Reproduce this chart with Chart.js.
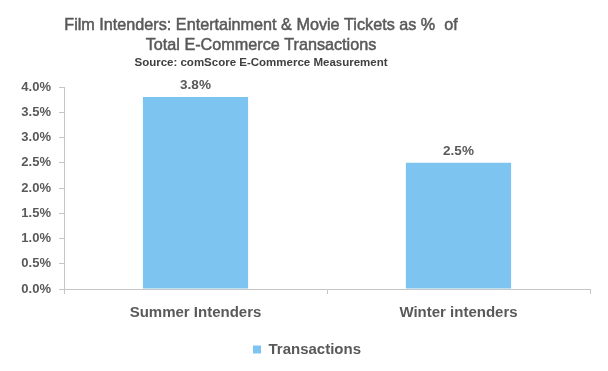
<!DOCTYPE html>
<html>
<head>
<meta charset="utf-8">
<script src="https://cdn.jsdelivr.net/npm/chart.js@4"></script>
<style>
  html, body { margin: 0; padding: 0; background: #ffffff; }
  #wrap { width: 608px; height: 371px; }
</style>
</head>
<body>
<div id="wrap"><canvas id="my-chart" width="608" height="371"></canvas></div>
<script>
const categories = ["Summer Intenders", "Winter intenders"];
const transactions = [3.8, 2.5];
const yTicks = [0, 0.5, 1, 1.5, 2, 2.5, 3, 3.5, 4];
const titleLines = ["Film Intenders: Entertainment & Movie Tickets as %  of", "Total E-Commerce Transactions"];
const subtitleText = "Source: comScore E-Commerce Measurement";

const FONT = "'Liberation Sans', Arial, sans-serif";
const textColor = "#595959";
const axisColor = "#c6c6c6";
const barColor = "#7DC4F0";

// title block is centred a bit left of the canvas middle, like the original
const titleBlock = {
  id: "titleBlock",
  afterDraw(chart) {
    const ctx = chart.ctx;
    ctx.save();
    ctx.textAlign = "center";
    ctx.textBaseline = "alphabetic";
    ctx.fillStyle = textColor;
    ctx.strokeStyle = textColor;
    ctx.lineWidth = 0.5;
    ctx.font = "16.2px " + FONT;
    titleLines.forEach((line, i) => {
      ctx.fillText(line, 261, 30 + i * 20);
      ctx.strokeText(line, 261, 30 + i * 20);
    });
    ctx.fillStyle = "#404040";
    ctx.font = "bold 11.5px " + FONT;
    ctx.fillText(subtitleText, 261, 66);
    ctx.restore();
  }
};

// draws the value above each bar
const valueLabels = {
  id: "valueLabels",
  afterDatasetsDraw(chart) {
    const ctx = chart.ctx;
    const meta = chart.getDatasetMeta(0);
    ctx.save();
    ctx.font = "bold 13.5px " + FONT;
    ctx.fillStyle = textColor;
    ctx.textAlign = "center";
    ctx.textBaseline = "alphabetic";
    meta.data.forEach((bar, i) => {
      ctx.fillText(transactions[i].toFixed(1) + "%", bar.x, bar.y - 8);
    });
    ctx.restore();
  }
};

// legend in the original sits centred under the plot, not the canvas
const shiftLegend = {
  id: "shiftLegend",
  afterLayout(chart) {
    chart.legend.left += 24;
  }
};

new Chart(document.getElementById("my-chart"), {
  type: "bar",
  data: {
    labels: categories,
    datasets: [
      {
        label: "Transactions",
        data: transactions,
        backgroundColor: barColor,
        borderWidth: 0,
        categoryPercentage: 0.4,
        barPercentage: 1
      }
    ]
  },
  options: {
    responsive: false,
    animation: false,
    layout: { padding: { left: 0, right: 18, top: 87, bottom: 4 } },
    plugins: {
      title: { display: false },
      subtitle: { display: false },
      legend: {
        position: "bottom",
        labels: {
          color: textColor,
          font: { family: FONT, size: 15, weight: "bold" },
          boxWidth: 8,
          boxHeight: 8,
          padding: 10
        }
      },
      tooltip: { enabled: false }
    },
    scales: {
      x: {
        grid: { display: true, drawOnChartArea: false, color: axisColor, tickLength: 5, offset: true },
        border: { color: axisColor },
        ticks: {
          color: textColor,
          font: { family: FONT, size: 15, weight: "bold" },
          padding: 10
        }
      },
      y: {
        min: 0,
        max: 4,
        afterBuildTicks(axis) {
          axis.ticks = yTicks.map(v => ({ value: v }));
        },
        afterFit(axis) {
          axis.width = 64;
        },
        grid: { display: true, drawOnChartArea: false, color: axisColor, tickLength: 5 },
        border: { color: axisColor },
        ticks: {
          color: textColor,
          font: { family: FONT, size: 13, weight: "bold" },
          padding: 8,
          callback: v => v.toFixed(1) + "%"
        }
      }
    }
  },
  plugins: [valueLabels, titleBlock, shiftLegend]
});
</script>
</body>
</html>
